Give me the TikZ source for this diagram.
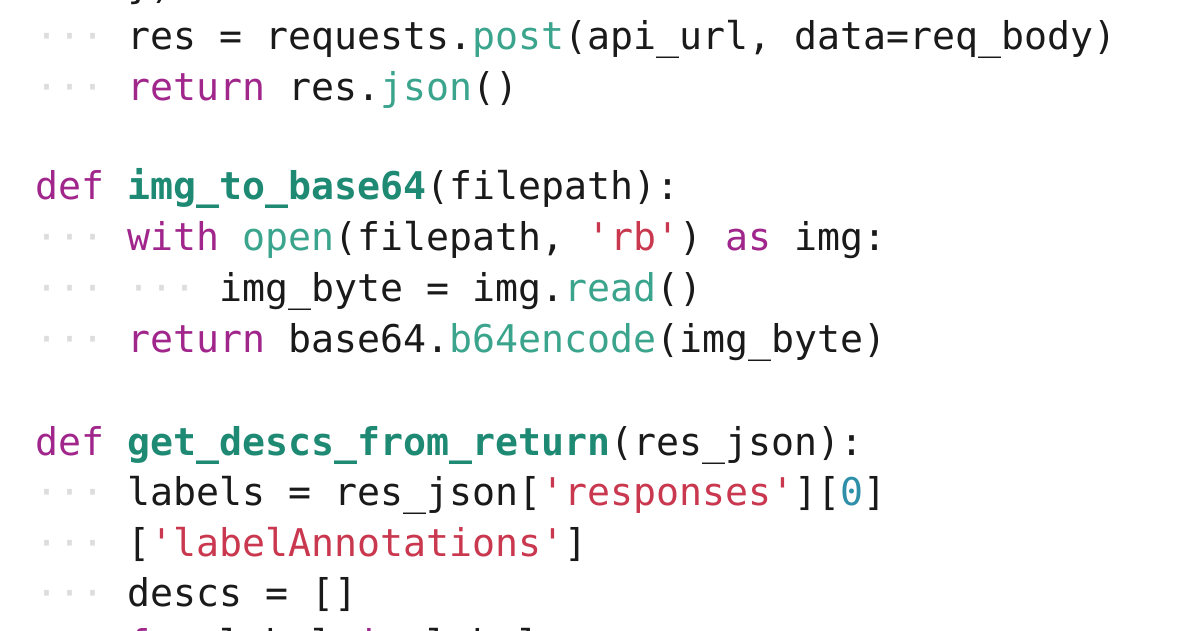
\documentclass[tikz,border=0pt]{standalone}
\usepackage{fontspec}
\setmonofont{DejaVu Sans Mono}
\usepackage{xcolor}
\definecolor{kw}{HTML}{A0268C}
\definecolor{fn}{HTML}{1F8A74}
\definecolor{me}{HTML}{3AA48C}
\definecolor{st}{HTML}{C9384E}
\definecolor{nu}{HTML}{2E8FA8}
\definecolor{tx}{HTML}{1A1A1A}
\definecolor{gd}{HTML}{DDDDDD}
\newcommand{\K}[1]{\textcolor{kw}{#1}}
\newcommand{\F}[1]{\textcolor{fn}{\bfseries #1}}
\newcommand{\M}[1]{\textcolor{me}{#1}}
\newcommand{\Sx}[1]{\textcolor{st}{#1}}
\begin{document}
\begin{tikzpicture}[x=1pt,y=1pt,
  code/.style={anchor=base west,inner sep=0,font=\fontsize{38.2}{40}\ttfamily,text=tx},
  guide/.style={anchor=base west,inner sep=0,font=\fontsize{38.2}{40}\ttfamily,text=gd}]
\useasboundingbox (0,0) rectangle (1200,630);
\clip (0,0) rectangle (1200,630);
\fill[white] (0,0) rectangle (1200,630);
\def\G{\char"00B7\char"00B7\char"00B7}
% indentation guides
\foreach \b in {-1,50,101,251,302,353,505,556,606,657}{
  \node[guide] at (35,630-\b) {\G};}
\node[guide] at (127,630-302) {\G};
\node[code] (l0) at (127,631) {\})};
\node[code] (l1) at (127,580) {res = requests.\M{post}(api\_url, data=req\_body)};
\node[code] (l2) at (127,529) {\K{return} res.\M{json}()};
\node[code] (l4) at (35,430) {\K{def} \F{img\_to\_base64}(filepath):};
\node[code] (l5) at (127,379) {\K{with} \M{open}(filepath, \Sx{'rb'}) \K{as} img:};
\node[code] (l6) at (219,328) {img\_byte = img.\M{read}()};
\node[code] (l7) at (127,277) {\K{return} base64.\M{b64encode}(img\_byte)};
\node[code] (l9) at (35,175) {\K{def} \F{get\_descs\_from\_return}(res\_json):};
\node[code] (l10) at (127,125) {labels = res\_json[\Sx{'responses'}][\textcolor{nu}{0}]};
\node[code] (l11) at (127,74) {[\Sx{'labelAnnotations'}]};
\node[code] (l12) at (127,24) {descs = []};
\node[code] (l13) at (127,-27) {\K{for} label \K{in} labels:};
\end{tikzpicture}
\end{document}
